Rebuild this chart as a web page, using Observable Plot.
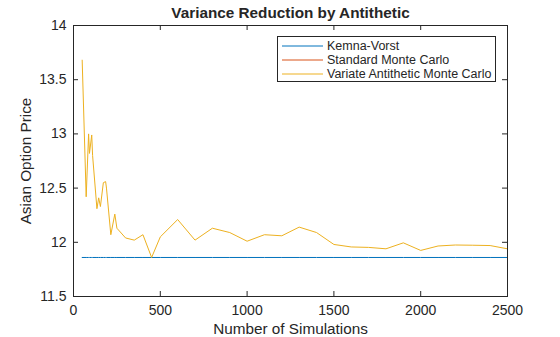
<!DOCTYPE html>
<html>
<head>
<meta charset="utf-8">
<script src="https://cdn.jsdelivr.net/npm/d3@7"></script>
<script src="https://cdn.jsdelivr.net/npm/@observablehq/plot@0.6"></script>
<style>
  html, body { margin: 0; padding: 0; background: #fff; }
  #wrap { position: relative; width: 560px; height: 337px; }
  #legend { position: absolute; left: 277px; top: 36px; width: 217px; height: 44px;
    border: 1px solid #262626; background: #fff; font-family: "Liberation Sans", Arial, sans-serif;
    font-size: 12.5px; color: #262626; }
  .entry { position: absolute; left: 4px; height: 14px; display: flex; align-items: center; white-space: nowrap; }
  .entry svg { margin-right: 4px; }
</style>
</head>
<body>
<div id="wrap"><div id="legend"></div></div>
<script>
// Data
const simulations = [50, 73, 87, 92, 105, 110, 135, 145, 155, 172, 185, 190, 215, 238, 250, 300, 350, 400, 450, 500,
  600, 700, 800, 900, 1000, 1100, 1200, 1300, 1400, 1500, 1600, 1700, 1800, 1900, 2000, 2100, 2200, 2300, 2400, 2500];
const antitheticPrice = [13.68, 12.42, 13.00, 12.82, 12.99, 12.80, 12.31, 12.41, 12.33, 12.55, 12.56, 12.50, 12.07, 12.26, 12.13, 12.04, 12.02, 12.07, 11.86, 12.05,
  12.21, 12.02, 12.13, 12.09, 12.01, 12.07, 12.06, 12.14, 12.09, 11.98, 11.957, 11.953, 11.94, 11.995, 11.925, 11.966, 11.975, 11.973, 11.97, 11.94];
const kemnaVorstPrice = 11.86;
const seriesNames = ["Kemna-Vorst", "Standard Monte Carlo", "Variate Antithetic Monte Carlo"];
const seriesColors = ["#0072BD", "#D95319", "#EDB120"];
const xTicks = [0, 500, 1000, 1500, 2000, 2500];
const yTicks = [11.5, 12, 12.5, 13, 13.5, 14];
const titleText = "Variance Reduction by Antithetic";
const xLabel = "Number of Simulations";
const yLabel = "Asian Option Price";

const antithetic = simulations.map((n, i) => ({n, price: antitheticPrice[i]}));
const kemna = simulations.map(n => ({n, price: kemnaVorstPrice}));

const W = 560, H = 337, mt = 25, mb = 41, ml = 73, mr = 53;
const fh = H - mt - mb, fw = W - ml - mr, tk = 5;
const ink = "#262626";

const chart = Plot.plot({
  width: W, height: H,
  marginTop: mt, marginBottom: mb, marginLeft: ml, marginRight: mr,
  x: {domain: [0, 2500]},
  y: {domain: [11.5, 14]},
  style: {fontFamily: "'Liberation Sans', Arial, sans-serif", color: ink, background: "#fff"},
  marks: [
    Plot.line(kemna, {x: "n", y: "price", stroke: seriesColors[0], strokeWidth: 1}),
    Plot.line(antithetic, {x: "n", y: "price", stroke: seriesColors[2], strokeWidth: 1}),
    Plot.frame({stroke: ink, strokeWidth: 1}),
    // inward ticks on all four sides
    Plot.tickX(xTicks, {x: d => d, insetTop: fh - tk, stroke: ink}),
    Plot.tickX(xTicks, {x: d => d, insetBottom: fh - tk, stroke: ink}),
    Plot.tickY(yTicks, {y: d => d, insetRight: fw - tk, stroke: ink}),
    Plot.tickY(yTicks, {y: d => d, insetLeft: fw - tk, stroke: ink}),
    Plot.axisX({ticks: xTicks, tickSize: 0, tickPadding: 9, fontSize: 14, label: null, tickFormat: d => String(d)}),
    Plot.axisY({ticks: yTicks, tickSize: 0, tickPadding: 7, fontSize: 14, label: null, tickFormat: d => String(d)}),
    Plot.text([xLabel], {frameAnchor: "bottom", lineAnchor: "middle", dy: 33, fontSize: 15.3, fill: ink}),
    Plot.text([yLabel], {frameAnchor: "left", textAnchor: "middle", lineAnchor: "middle", dx: -47, rotate: -90, fontSize: 15.3, fill: ink}),
    Plot.text([titleText], {frameAnchor: "top", lineAnchor: "middle", dy: -12, fontSize: 15.3, fontWeight: "bold", fill: ink})
  ]
});
document.getElementById("wrap").prepend(chart);

const legend = document.getElementById("legend");
seriesNames.forEach((name, i) => {
  const e = document.createElement("div");
  e.className = "entry";
  e.style.top = (2 + i * 14) + "px";
  e.innerHTML = `<svg width="41" height="4"><line x1="0" y1="2" x2="41" y2="2" stroke="${seriesColors[i]}" stroke-width="1"/></svg><span>${name}</span>`;
  legend.appendChild(e);
});
</script>
</body>
</html>
